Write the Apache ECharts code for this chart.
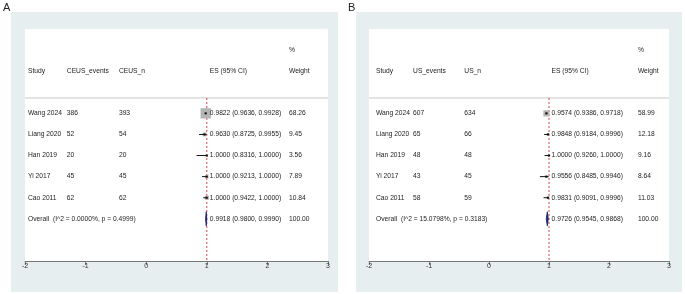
<!DOCTYPE html>
<html>
<head>
<meta charset="utf-8">
<script src="https://cdn.jsdelivr.net/npm/echarts@6/dist/echarts.min.js"></script>
<style>
  html, body { margin: 0; padding: 0; background: #fff; }
  #chart { width: 685px; height: 294px; }
</style>
</head>
<body>
<div id="chart"></div>
<script>
// ---- data ----
var studies = ['Wang 2024', 'Liang 2020', 'Han 2019', 'Yi 2017', 'Cao 2011'];

// panel A: CEUS
var ceusEvents = [386, 52, 20, 45, 62];
var ceusN      = [393, 54, 20, 45, 62];
var ceusES     = [0.9822, 0.9630, 1.0000, 1.0000, 1.0000];
var ceusLo     = [0.9636, 0.8725, 0.8316, 0.9213, 0.9422];
var ceusHi     = [0.9928, 0.9955, 1.0000, 1.0000, 1.0000];
var ceusWeight = [68.26, 9.45, 3.56, 7.89, 10.84];
var ceusOverall = [0.9918, 0.9800, 0.9990];   // es, lo, hi
var ceusHet     = [0.0000, 0.4999];           // I^2 %, p

// panel B: US
var usEvents = [607, 65, 48, 43, 58];
var usN      = [634, 66, 48, 45, 59];
var usES     = [0.9574, 0.9848, 1.0000, 0.9556, 0.9831];
var usLo     = [0.9386, 0.9184, 0.9260, 0.8485, 0.9091];
var usHi     = [0.9718, 0.9996, 1.0000, 0.9946, 0.9996];
var usWeight = [58.99, 12.18, 9.16, 8.64, 11.03];
var usOverall = [0.9726, 0.9545, 0.9868];
var usHet     = [15.0798, 0.3183];

var xTicks = [-2, -1, 0, 1, 2, 3];
var nullLine = 1;   // line of no effect

// ---- layout ----
var FONT = '"Liberation Sans", Arial, sans-serif';
var TXT = '#222';
var FS = 6.7;
var HEAD_LINE_Y = -0.73;   // rows are 0..5, header sits above
var Y_MIN = -4, Y_MAX = 7;
var panels = [
  {
    label: 'A', labelX: 3, outer: [11, 12, 327, 280], grid: { left: 25, top: 29, width: 303, height: 232 },
    cols: [-1.95, -1.31, -0.45, 1.05, 2.356], boxK: 1.25,
    heads: ['Study', 'CEUS_events', 'CEUS_n', 'ES (95% CI)', 'Weight'],
    events: ceusEvents, n: ceusN, es: ceusES, lo: ceusLo, hi: ceusHi, w: ceusWeight, ov: ceusOverall, het: ceusHet
  },
  {
    label: 'B', labelX: 348, outer: [356, 12, 326, 280], grid: { left: 369, top: 29, width: 300, height: 232 },
    cols: [-1.883, -1.265, -0.411, 1.043, 2.482], boxK: 0.8,
    heads: ['Study', 'US_events', 'US_n', 'ES (95% CI)', 'Weight'],
    events: usEvents, n: usN, es: usES, lo: usLo, hi: usHi, w: usWeight, ov: usOverall, het: usHet
  }
];

function f4(v) { return v.toFixed(4); }
function ciText(es, lo, hi) { return f4(es) + ' (' + f4(lo) + ', ' + f4(hi) + ')'; }

var grids = [], xAxes = [], yAxes = [], series = [], graphics = [];

panels.forEach(function (p, k) {
  graphics.push({ type: 'rect', z: -10, shape: { x: p.outer[0], y: p.outer[1], width: p.outer[2], height: p.outer[3] }, style: { fill: '#e7eef0' } });
  graphics.push({ type: 'text', x: p.labelX, y: 2, style: { text: p.label, font: '11px ' + FONT, fill: TXT } });

  grids.push({ left: p.grid.left, top: p.grid.top, width: p.grid.width, height: p.grid.height, show: true, backgroundColor: '#fff', borderWidth: 0 });
  xAxes.push({
    gridIndex: k, type: 'value', min: xTicks[0], max: xTicks[xTicks.length - 1], interval: 1,
    axisLine: { show: true, onZero: false, lineStyle: { color: '#777', width: 1 } },
    axisTick: { show: true, length: 4, lineStyle: { color: '#777' } },
    axisLabel: { show: true, fontSize: 7, fontFamily: FONT, color: '#333', margin: 2 },
    splitLine: { show: false }
  });
  yAxes.push({ gridIndex: k, type: 'value', inverse: true, min: Y_MIN, max: Y_MAX, show: false, splitLine: { show: false } });

  // header rule + dashed line of no effect
  series.push({
    type: 'custom', xAxisIndex: k, yAxisIndex: k, silent: true, z: 2,
    data: [[xTicks[0], HEAD_LINE_Y, xTicks[xTicks.length - 1], HEAD_LINE_Y, 0],
           [nullLine, HEAD_LINE_Y, nullLine, Y_MAX, 1]],
    renderItem: function (params, api) {
      var a = api.coord([api.value(0), api.value(1)]);
      var b = api.coord([api.value(2), api.value(3)]);
      var dashed = api.value(4) === 1;
      return {
        type: 'line',
        shape: { x1: a[0], y1: a[1], x2: b[0], y2: b[1] },
        style: dashed ? { stroke: '#d8403c', lineWidth: 1, lineDash: [2, 2] } : { stroke: '#c8c8c8', lineWidth: 1 }
      };
    }
  });

  // text cells: [x, y, text]
  var cells = [];
  cells.push([p.cols[4], -3, '%']);
  p.heads.forEach(function (h, c) { cells.push([p.cols[c], -2, h]); });
  studies.forEach(function (s, i) {
    cells.push([p.cols[0], i, s]);
    cells.push([p.cols[1], i, String(p.events[i])]);
    cells.push([p.cols[2], i, String(p.n[i])]);
    cells.push([p.cols[3], i, ciText(p.es[i], p.lo[i], p.hi[i])]);
    cells.push([p.cols[4], i, p.w[i].toFixed(2)]);
  });
  var ovRow = studies.length;
  cells.push([p.cols[0], ovRow, 'Overall  (I^2 = ' + f4(p.het[0]) + '%, p = ' + f4(p.het[1]) + ')']);
  cells.push([p.cols[3], ovRow, ciText(p.ov[0], p.ov[1], p.ov[2])]);
  cells.push([p.cols[4], ovRow, '100.00']);

  series.push({
    type: 'custom', xAxisIndex: k, yAxisIndex: k, silent: true, z: 5,
    data: cells.map(function (c) { return [c[0], c[1]]; }),
    renderItem: function (params, api) {
      var pt = api.coord([api.value(0), api.value(1)]);
      return { type: 'text', x: pt[0], y: pt[1], style: { text: cells[params.dataIndex][2], font: FS + 'px ' + FONT, fill: TXT, align: 'left', verticalAlign: 'middle' } };
    }
  });

  // study markers: box, CI line, centre dot
  series.push({
    type: 'custom', xAxisIndex: k, yAxisIndex: k, silent: true, z: 4,
    data: studies.map(function (s, i) { return [p.es[i], i, p.lo[i], p.hi[i], p.w[i]]; }),
    renderItem: function (params, api) {
      var c = api.coord([api.value(0), api.value(1)]);
      var a = api.coord([api.value(2), api.value(1)]);
      var b = api.coord([api.value(3), api.value(1)]);
      var side = p.boxK * Math.sqrt(api.value(4));
      return {
        type: 'group', children: [
          { type: 'rect', shape: { x: c[0] - side / 2, y: c[1] - side / 2, width: side, height: side }, style: { fill: '#b5b5b5' } },
          { type: 'line', shape: { x1: a[0], y1: a[1], x2: b[0], y2: b[1] }, style: { stroke: '#111', lineWidth: 1 } },
          { type: 'rect', shape: { x: c[0] - 1, y: c[1] - 1, width: 2, height: 2 }, style: { fill: '#111' } }
        ]
      };
    }
  });

  // overall diamond
  series.push({
    type: 'custom', xAxisIndex: k, yAxisIndex: k, silent: true, z: 4,
    data: [[p.ov[0], ovRow, p.ov[1], p.ov[2]]],
    renderItem: function (params, api) {
      var c = api.coord([api.value(0), api.value(1)]);
      var a = api.coord([api.value(2), api.value(1)]);
      var b = api.coord([api.value(3), api.value(1)]);
      var h = 7;
      return {
        type: 'polygon',
        shape: { points: [[a[0], a[1]], [c[0], c[1] - h], [b[0], b[1]], [c[0], c[1] + h]] },
        style: { fill: '#1f2a78', stroke: '#1f2a78', lineWidth: 1 }
      };
    }
  });
});

var chart = echarts.init(document.getElementById('chart'), null, { renderer: 'canvas' });
chart.setOption({
  animation: false,
  grid: grids,
  xAxis: xAxes,
  yAxis: yAxes,
  series: series,
  graphic: graphics
});
</script>
</body>
</html>
